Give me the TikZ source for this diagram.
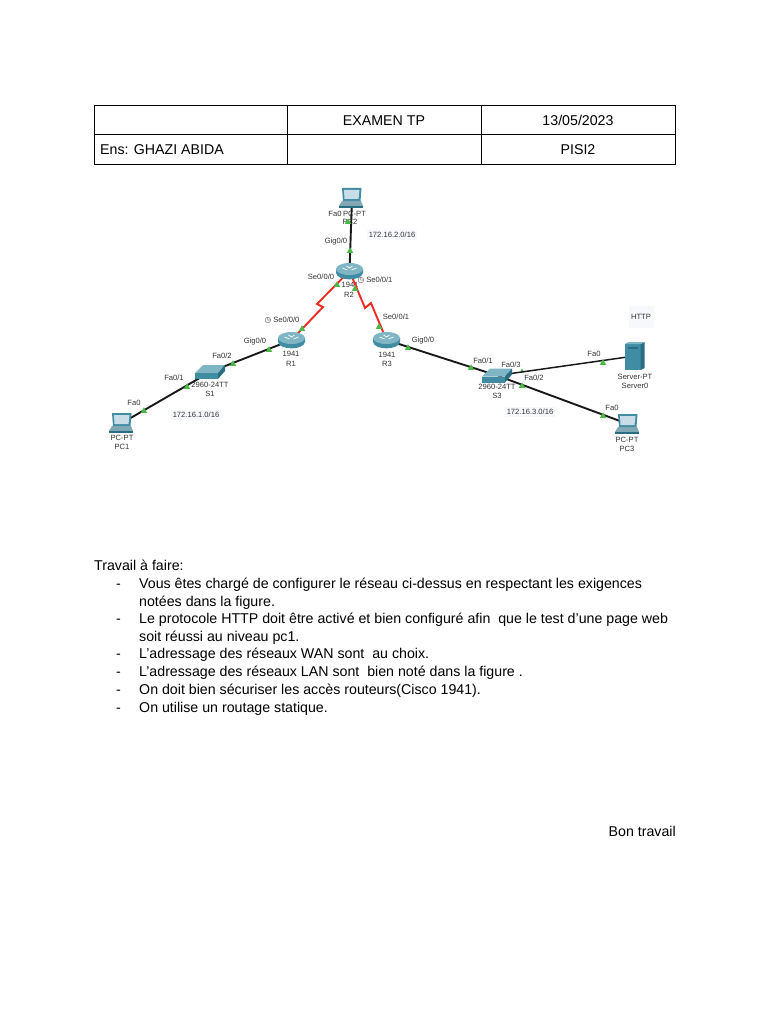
\documentclass[tikz,border=0pt]{standalone}
\usepackage{fontspec}
\setmainfont{Liberation Sans}
\newfontfamily\clockfont{DejaVu Sans}
\usetikzlibrary{positioning, arrows.meta, calc, shapes.geometric}
\definecolor{teal1}{HTML}{3F8CA3}
\definecolor{teal2}{HTML}{7FB5C4}
\definecolor{teal3}{HTML}{2A6D82}
\definecolor{screen1}{HTML}{C9DDE8}
\definecolor{portgreen}{HTML}{4CB848}
\definecolor{linkred}{HTML}{EE2A24}
\definecolor{notebg}{HTML}{F6F8FC}
\begin{document}
\begin{tikzpicture}[
	x=1pt, y=-1pt,
	cell/.style={font=\fontsize{14.2}{16}\selectfont},
	body/.style={anchor=base west, inner sep=0pt, font=\fontsize{14.2}{16}\selectfont},
	lab/.style={inner sep=0pt, text=black!80, font=\fontsize{7.6}{8}\selectfont},
	note/.style={inner sep=2pt, fill=notebg, text=black!80, font=\fontsize{7.6}{8}\selectfont},
	dev/.style={inner sep=0pt, minimum size=2pt},
	port/.style={regular polygon, regular polygon sides=3, fill=portgreen, inner sep=0pt, minimum size=7.5pt},
	lan/.style={line width=1.9pt, black!90},
	wan/.style={line width=1.9pt, linkred},
	pics/routericon/.style={code={
		\fill[teal1] (-13.5,-2) -- (-13.5,2) .. controls (-12,10.5) and (12,10.5) .. (13.5,2) -- (13.5,-2) -- cycle;
		\fill[teal2] (0,-2) ellipse [x radius=13.5, y radius=6];
		\draw[white, line width=.7pt] (-7,-3) -- (-2,-1) (7,-3) -- (2,-1) (-3,-5) -- (0,-3) (3,-5) -- (0,-3);
	}},
	pics/pcicon/.style={code={
		\fill[teal1] (-10,-10) -- (9.5,-10) -- (8.5,3) -- (-9,3) -- cycle;
		\fill[screen1] (-8,-8) -- (7.5,-8) -- (6.5,1) -- (-7.5,1) -- cycle;
		\fill[teal3!60] (-10,3) -- (9,3) -- (11,8) -- (-13,8) -- cycle;
		\fill[teal3] (-13,8) rectangle (11,10);
	}},
	pics/switchicon/.style={code={
		\fill[teal2] (-15,1) -- (-7,-7) -- (15,-7) -- (8,1) -- cycle;
		\fill[teal1] (-15,1) rectangle (8,7);
		\fill[teal3] (8,1) -- (15,-7) -- (15,-1) -- (8,7) -- cycle;
	}},
	pics/servericon/.style={code={
		\fill[teal1] (-10,-12) rectangle (6,14);
		\fill[teal3] (6,-12) -- (10,-14) -- (10,12) -- (6,14) -- cycle;
		\fill[teal2] (-10,-12) -- (-6,-14) -- (10,-14) -- (6,-12) -- cycle;
		\fill[teal3] (-7,-9) rectangle (3,-7);
	}}
	]
	% Page
	\useasboundingbox (0,0) rectangle (768,1024);
	
	% Header table
	\draw[line width=.8pt] (94,105) rectangle (675,164);
	\draw[line width=.8pt] (94,134) -- (675,134);
	\foreach \x in {287,481} {
		\draw[line width=.8pt] (\x,105) -- (\x,164);
	}
	\node[cell] (exam) at (384,120.5) {EXAMEN TP};
	\node[cell] (date) at (578,120.5) {13/05/2023};
	\node[cell, anchor=west, inner sep=0pt] (ens) at (100,149.5) {Ens: GHAZI ABIDA};
	\node[cell] (pisi) at (578,149.5) {PISI2};
	
	% Devices
	\node[dev] (PC2) at (352,198) {};
	\node[dev] (R2) at (349.5,271) {};
	\node[dev] (R1) at (291.5,340) {};
	\node[dev] (R3) at (386.5,340) {};
	\node[dev] (S1) at (210,372) {};
	\node[dev] (PC1) at (122,423) {};
	\node[dev] (S3) at (497,375.5) {};
	\node[dev] (Server0) at (634.5,356) {};
	\node[dev] (PC3) at (628,424) {};
	\coordinate (bendA) at (317,304);
	\coordinate (bendB) at (323,307);
	\coordinate (bendC) at (365,308);
	\coordinate (bendD) at (371,303);
	
	% Device names under the links
	\node[lab] (pc2type) at (354.5,213.5) {PC-PT};
	\node[lab] (pc2name) at (350,222) {PC2};
	\node[lab] (pc2port) at (335,213.5) {Fa0};
	\node[lab] (r2type) at (350,285) {1941};
	\node[lab] (r2name) at (349,295) {R2};
	
	% Connections
	\draw[lan] (PC2) -- (R2);
	\draw[lan] (R1) -- (S1);
	\draw[lan] (S1) -- (PC1);
	\draw[lan] (R3) -- (S3);
	\draw[lan, line width=1.5pt] (S3) -- (Server0);
	\draw[lan] (S3) -- (PC3);
	\draw[wan] (R2) -- (bendA) -- (bendB) -- (R1);
	\draw[wan] (R2) -- (bendC) -- (bendD) -- (R3);
	
	% Icons
	\pic at (PC2) {pcicon};
	\pic at (R2) {routericon};
	\pic at (R1) {routericon};
	\pic at (R3) {routericon};
	\pic at (S1) {switchicon};
	\pic at (PC1) {pcicon};
	\pic at (S3) {switchicon};
	\pic at (Server0) {servericon};
	\pic at (PC3) {pcicon};
	
	% Port marks
	\node[port] (p1) at (348,222) {};
	\node[port] (p2) at (350,251) {};
	\node[port] (p3) at (337,285) {};
	\node[port] (p4) at (355,289) {};
	\node[port] (p5) at (302,329) {};
	\node[port] (p6) at (379,327) {};
	\node[port] (p7) at (269,350) {};
	\node[port] (p8) at (408,348) {};
	\node[port] (p9) at (233,364) {};
	\node[port] (p10) at (187,387) {};
	\node[port] (p11) at (144,411) {};
	\node[port] (p12) at (471,368) {};
	\node[port] (p13) at (522,386) {};
	\node[port, minimum size=3pt] (p14) at (522,370) {};
	\node[port] (p15) at (603,363) {};
	\node[port] (p16) at (603,416) {};
	
	% Port labels
	\node[lab] (l1) at (336,242) {Gig0/0};
	\node[lab] (l2) at (321,277) {Se0/0/0};
	\node[lab] (l3) at (375,280) {{\clockfont ◷} Se0/0/1};
	\node[lab] (l4) at (282,320) {{\clockfont ◷} Se0/0/0};
	\node[lab] (l5) at (396,317) {Se0/0/1};
	\node[lab] (l6) at (255,342) {Gig0/0};
	\node[lab] (l7) at (423,341) {Gig0/0};
	\node[lab] (l8) at (222,356) {Fa0/2};
	\node[lab] (l9) at (174,378) {Fa0/1};
	\node[lab] (l10) at (134,403) {Fa0};
	\node[lab] (l11) at (483,361) {Fa0/1};
	\node[lab] (l12) at (511,365) {Fa0/3};
	\node[lab] (l13) at (534,378) {Fa0/2};
	\node[lab] (l14) at (594,354) {Fa0};
	\node[lab] (l15) at (612,408) {Fa0};
	
	% Device labels
	\node[lab] (r1type) at (291,354) {1941};
	\node[lab] (r1name) at (291,364) {R1};
	\node[lab] (r3type) at (387,355) {1941};
	\node[lab] (r3name) at (387,364) {R3};
	\node[lab] (s1type) at (210,385) {2960-24TT};
	\node[lab] (s1name) at (210,394) {S1};
	\node[lab] (s3type) at (497,387) {2960-24TT};
	\node[lab] (s3name) at (497,396) {S3};
	\node[lab] (pc1type) at (122,438) {PC-PT};
	\node[lab] (pc1name) at (122,447) {PC1};
	\node[lab] (pc3type) at (627,440) {PC-PT};
	\node[lab] (pc3name) at (627,449) {PC3};
	\node[lab] (srvtype) at (635,377) {Server-PT};
	\node[lab] (srvname) at (635,386) {Server0};
	
	% Notes
	\node[note] (lan2) at (392,235) {172.16.2.0/16};
	\node[note] (lan1) at (196,415) {172.16.1.0/16};
	\node[note] (lan3) at (530,412) {172.16.3.0/16};
	\node[note, minimum width=25pt, minimum height=22pt] (http) at (641,317) {HTTP};
	
	% Work to do
	\node[body] (todo) at (94,570) {Travail à faire:};
	\node[body] (t1) at (139,588) {Vous êtes chargé de configurer le réseau ci-dessus en respectant les exigences};
	\node[body] (t1b) at (139,606) {notées dans la figure.};
	\node[body] (t2) at (139,623) {Le protocole HTTP doit être activé et bien configuré afin~ que le test d’une page web};
	\node[body] (t2b) at (139,641) {soit réussi au niveau pc1.};
	\node[body] (t3) at (139,658) {L'adressage des réseaux WAN sont~ au choix.};
	\node[body] (t4) at (139,676) {L'adressage des réseaux LAN sont~ bien noté dans la figure .};
	\node[body] (t5) at (139,694) {On doit bien sécuriser les accès routeurs(Cisco 1941).};
	\node[body] (t6) at (139,712) {On utilise un routage statique.};
	\foreach \y in {588,623,658,676,694,712} {
		\node[body] (dash\y) at (116,\y) {-};
	}
	\node[body, anchor=base east] (bon) at (676,836) {Bon travail};
	
\end{tikzpicture}
\end{document}
